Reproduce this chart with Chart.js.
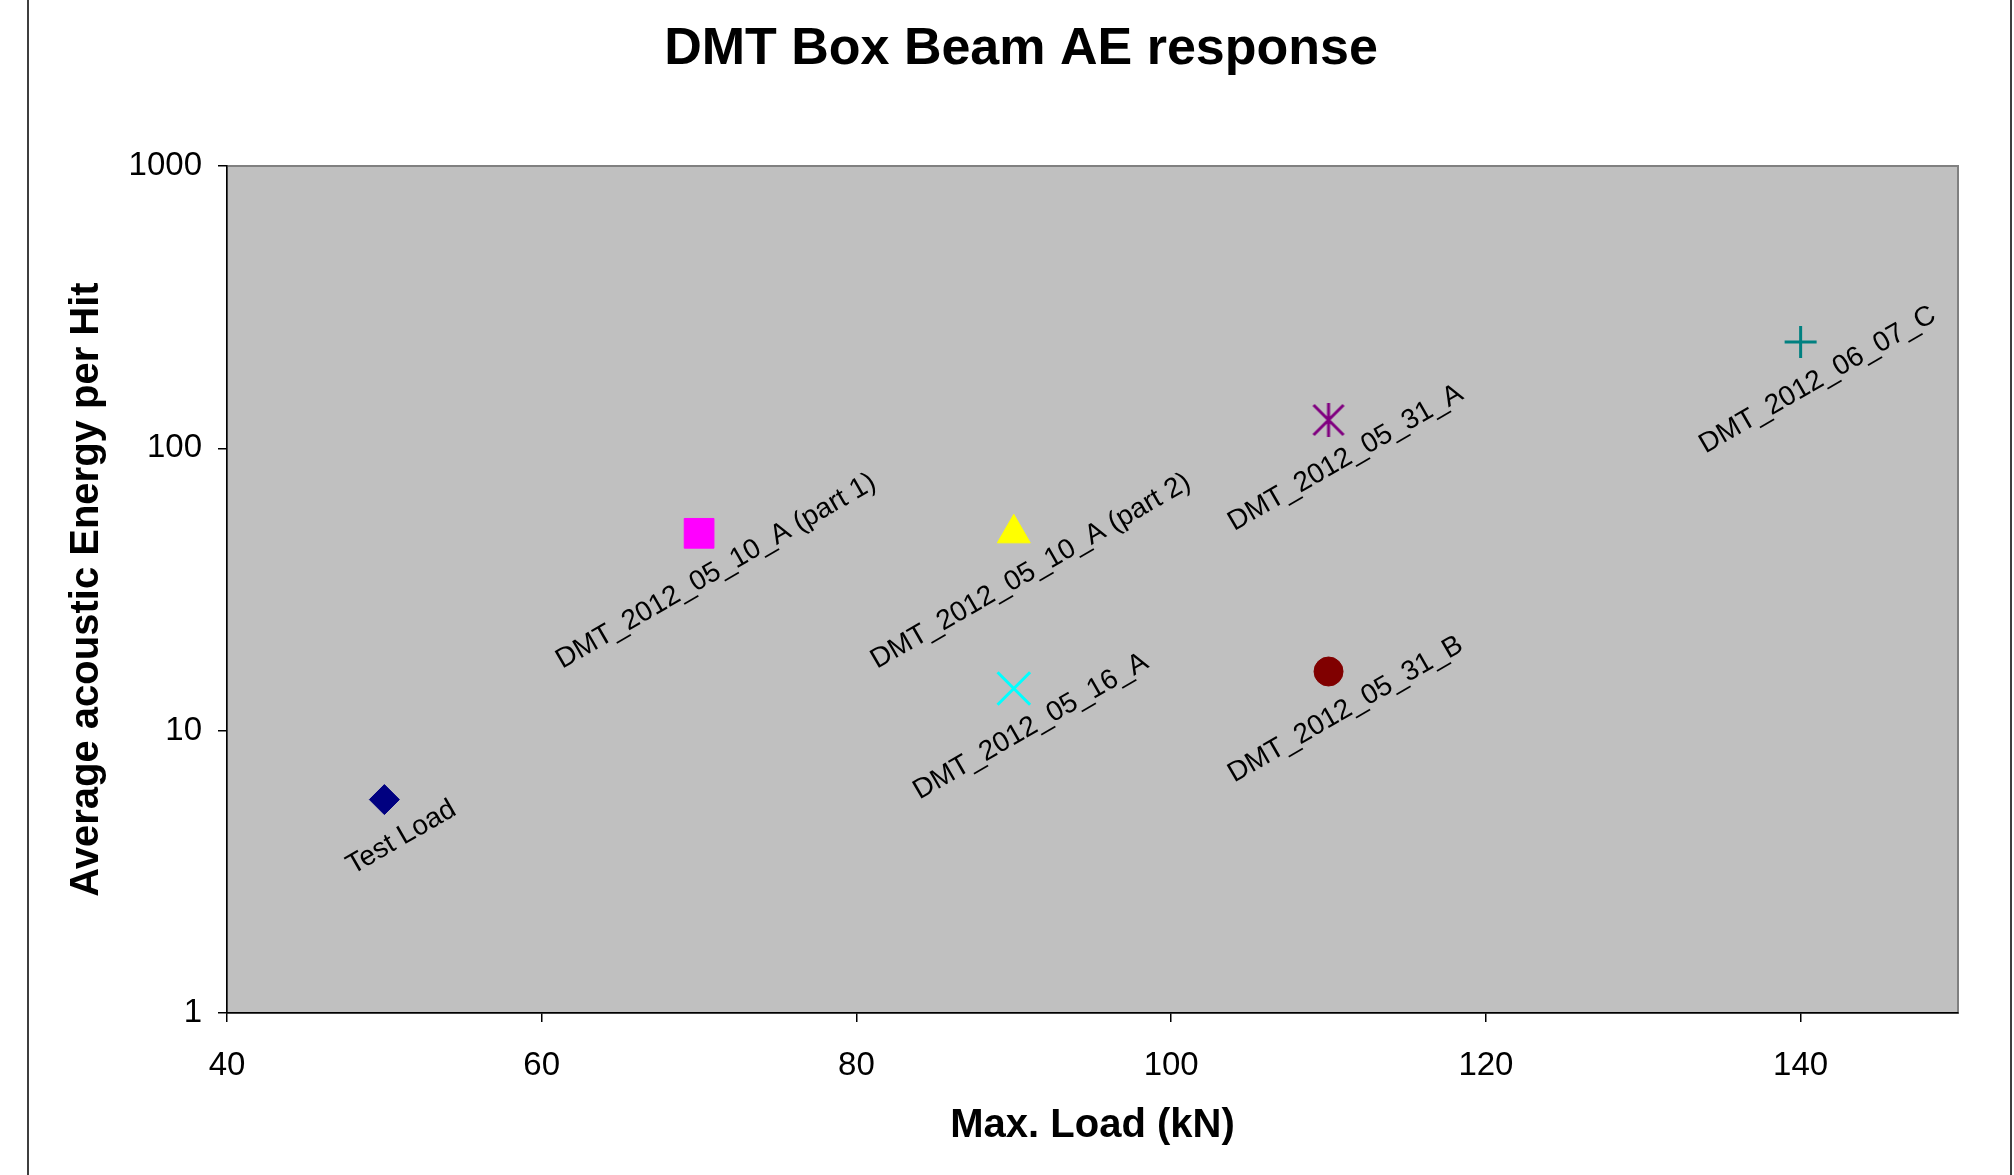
<!DOCTYPE html>
<html lang="en">
<head>
<meta charset="UTF-8">
<title>DMT Box Beam AE response</title>
<style>
  body { margin: 0; background: #fff; }
  canvas { display: block; }
</style>
</head>
<body>
<canvas id="grafico" width="2014" height="1175"></canvas>

<script src="https://cdn.jsdelivr.net/npm/chart.js"></script>
<script>
// data
const series = ['Test Load', 'DMT_2012_05_10_A (part 1)', 'DMT_2012_05_10_A (part 2)', 'DMT_2012_05_16_A',
                'DMT_2012_05_31_A', 'DMT_2012_05_31_B', 'DMT_2012_06_07_C']
const maxLoad = [50, 70, 90, 90, 110, 110, 140]            // kN
const energyPerHit = [5.7, 50, 50, 14.1, 126, 16.2, 238]
const xTicks = [40, 60, 80, 100, 120, 140]
const yTicks = [1, 10, 100, 1000]
const titulo = 'DMT Box Beam AE response'

const fonte = '"Liberation Sans", Arial, sans-serif'

// Excel style asterisk marker
const estrela = document.createElement('canvas')
estrela.width = 34; estrela.height = 36
{
  const e = estrela.getContext('2d')
  e.strokeStyle = '#800080'; e.lineWidth = 3
  e.beginPath()
  e.moveTo(2, 3); e.lineTo(32, 33)
  e.moveTo(32, 3); e.lineTo(2, 33)
  e.moveTo(17, 1); e.lineTo(17, 35)
  e.stroke()
}

const cores = ['#000080', '#ff00ff', '#ffff00', '#00ffff', '#800080', '#800000', '#008080']
const estilos = ['rectRot', 'rect', 'triangle', 'crossRot', estrela, 'circle', 'cross']
const raios = [15, 21, 19, 23, 17, 14.5, 16]
const bordas = [1, 1, 1, 3, 0, 1, 3]

const datasets = series.map((nome, i) => ({
  label: nome,
  data: [{x: maxLoad[i], y: energyPerHit[i]}],
  pointStyle: estilos[i],
  pointRadius: raios[i],
  pointHoverRadius: raios[i],
  backgroundColor: cores[i],
  borderColor: cores[i],
  pointBorderWidth: bordas[i],
  showLine: false
}))

const fundo = {
  id: 'fundo',
  beforeDraw(chart) {
    const {ctx, chartArea: a} = chart
    ctx.save()
    ctx.fillStyle = '#fff'
    ctx.fillRect(0, 0, chart.width, chart.height)
    ctx.strokeStyle = '#000'; ctx.lineWidth = 1.5
    ctx.beginPath()
    ctx.moveTo(28, 0); ctx.lineTo(28, chart.height)
    ctx.moveTo(2011, 0); ctx.lineTo(2011, chart.height)
    ctx.stroke()
    ctx.fillStyle = '#c0c0c0'
    ctx.fillRect(a.left, a.top, a.width, a.height)
    ctx.strokeStyle = '#808080'; ctx.lineWidth = 2
    ctx.strokeRect(a.left, a.top, a.width, a.height)
    ctx.font = 'bold 52px ' + fonte
    ctx.fillStyle = '#000'; ctx.textAlign = 'center'; ctx.textBaseline = 'middle'
    ctx.fillText(titulo, 1021, 50)
    ctx.restore()
  }
}

// rotated data labels, below right of each marker
const rotulos = {
  id: 'rotulos',
  afterDatasetsDraw(chart) {
    const ctx = chart.ctx
    ctx.save()
    ctx.font = '28px ' + fonte
    ctx.fillStyle = '#000'; ctx.textAlign = 'center'; ctx.textBaseline = 'middle'
    chart.data.datasets.forEach((ds, i) => {
      const p = chart.getDatasetMeta(i).data[0]
      ctx.save()
      ctx.translate(p.x + 17, p.y + 38)
      ctx.rotate(-Math.PI / 6)
      ctx.fillText(ds.label, 0, 0)
      ctx.restore()
    })
    ctx.restore()
  }
}

const eixoGrid = {display: true, drawOnChartArea: false, drawTicks: true, tickLength: 9, color: '#000', lineWidth: 1.5}

new Chart(document.getElementById('grafico'), {
  type: 'scatter',
  data: {datasets},
  options: {
    responsive: false,
    animation: false,
    devicePixelRatio: 1,
    layout: {padding: {left: 0, right: 56, top: 166, bottom: 0}},
    plugins: {legend: {display: false}, tooltip: {enabled: false}},
    scales: {
      x: {
        type: 'linear', min: 40, max: 150,
        afterBuildTicks: s => { s.ticks = xTicks.map(v => ({value: v})) },
        afterFit: s => { s.height = 162 },
        ticks: {color: '#000', font: {size: 33, family: fonte}, padding: 24, maxRotation: 0},
        grid: eixoGrid,
        border: {display: true, color: '#000', width: 1.5},
        title: {display: true, text: 'Max. Load (kN)', color: '#000',
                font: {size: 40, weight: 'bold', family: fonte}, padding: {top: 0, bottom: 25}}
      },
      y: {
        type: 'logarithmic', min: 1, max: 1000,
        afterBuildTicks: s => { s.ticks = yTicks.map(v => ({value: v})) },
        afterFit: s => { s.width = 227 },
        ticks: {color: '#000', font: {size: 33, family: fonte}, padding: 16, callback: v => String(v)},
        grid: eixoGrid,
        border: {display: true, color: '#000', width: 1.5},
        title: {display: true, text: 'Average acoustic Energy per Hit', color: '#000',
                font: {size: 40, weight: 'bold', family: fonte}, padding: {top: 63, bottom: 0}}
      }
    }
  },
  plugins: [fundo, rotulos]
})
</script>
</body>
</html>
